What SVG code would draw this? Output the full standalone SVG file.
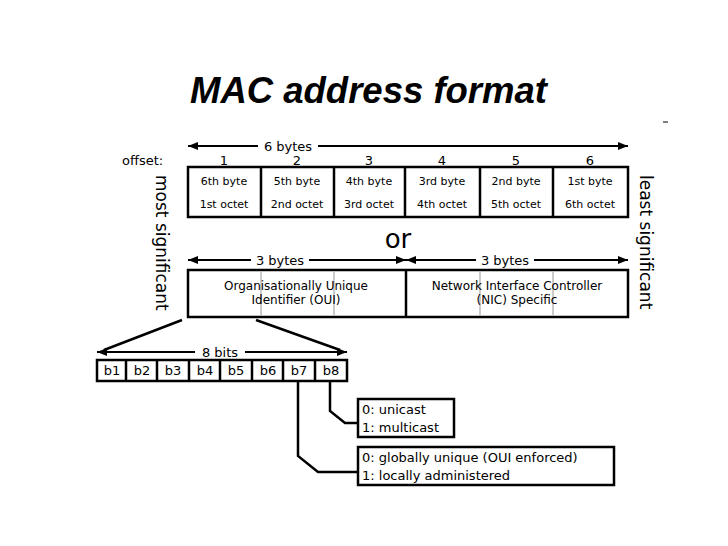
<svg xmlns="http://www.w3.org/2000/svg" width="728" height="546" viewBox="0 0 728 546">
<defs>
<marker id="ah" markerWidth="10" markerHeight="8" refX="10" refY="4" orient="auto-start-reverse" markerUnits="userSpaceOnUse"><path d="M0,0 L10,4 L0,8 z" fill="#000"/></marker>
<style>
text{font-family:"DejaVu Sans",sans-serif;fill:#000}
.s{font-size:11px}
.o{font-size:12px}
.m{font-size:13px}
.box{fill:#fff;stroke:#000;stroke-width:2.5}
.ln{fill:none;stroke:#000;stroke-width:2.5}
.ar{fill:none;stroke:#000;stroke-width:2;marker-start:url(#ah);marker-end:url(#ah)}
.g{stroke:#bbb;stroke-width:1.5}
</style>
</defs>
<rect width="728" height="546" fill="#fff"/>
<text x="190" y="103" style="font-family:'Liberation Sans',sans-serif;font-size:36.5px;font-weight:bold;font-style:italic">MAC address format</text>
<line x1="663" y1="122" x2="668" y2="122" stroke="#000"/>
<g id="connectors">
<line class="ar" x1="188" y1="146" x2="628" y2="146"/>
<line class="ar" x1="188" y1="260" x2="406" y2="260"/>
<line class="ar" x1="406" y1="260" x2="628" y2="260"/>
<line class="ar" x1="97" y1="352" x2="347" y2="352"/>
<path class="ln" d="M182,320 L104,350 M256,320 L340,350"/>
<path class="ln" d="M330,380 V411 L345,423 H358"/>
<path class="ln" d="M298,380 V456 L318,472 H358"/>
</g>
<g id="labels">
<rect x="258" y="139" width="60" height="14" fill="#fff"/>
<text class="m" x="288" y="151" text-anchor="middle">6 bytes</text>
<rect x="251" y="253" width="58" height="14" fill="#fff"/>
<text class="m" x="280" y="265" text-anchor="middle">3 bytes</text>
<rect x="476" y="253" width="58" height="14" fill="#fff"/>
<text class="m" x="505" y="265" text-anchor="middle">3 bytes</text>
<rect x="195" y="345" width="50" height="14" fill="#fff"/>
<text class="m" x="220" y="357" text-anchor="middle">8 bits</text>
<text class="m" x="122" y="165">offset:</text>
<text class="m" x="224" y="165" text-anchor="middle">1</text>
<text class="m" x="297" y="165" text-anchor="middle">2</text>
<text class="m" x="369" y="165" text-anchor="middle">3</text>
<text class="m" x="442" y="165" text-anchor="middle">4</text>
<text class="m" x="516" y="165" text-anchor="middle">5</text>
<text class="m" x="590" y="165" text-anchor="middle">6</text>
<text x="398" y="248" text-anchor="middle" style="font-size:26px">or</text>
<text x="0" y="0" transform="translate(156,175) rotate(90)" style="font-size:17px">most significant</text>
<text x="0" y="0" transform="translate(640,175) rotate(90)" style="font-size:17px">least significant</text>
</g>
<g id="bytes">
<rect class="box" x="188" y="167" width="440" height="50"/>
<path class="ln" d="M261,167V217M334,167V217M405,167V217M480,167V217M553,167V217"/>
<g class="s" text-anchor="middle">
<text x="224" y="185">6th byte</text><text x="224" y="208">1st octet</text>
<text x="297" y="185">5th byte</text><text x="297" y="208">2nd octet</text>
<text x="369" y="185">4th byte</text><text x="369" y="208">3rd octet</text>
<text x="442" y="185">3rd byte</text><text x="442" y="208">4th octet</text>
<text x="516" y="185">2nd byte</text><text x="516" y="208">5th octet</text>
<text x="590" y="185">1st byte</text><text x="590" y="208">6th octet</text>
</g>
</g>
<g id="oui-nic">
<rect class="box" x="188" y="270" width="440" height="47"/>
<path class="g" d="M261,271V316M334,271V316M480,271V316M553,271V316"/>
<line class="ln" x1="406" y1="270" x2="406" y2="317"/>
<text class="o" x="296" y="290" text-anchor="middle">Organisationally Unique</text>
<text class="o" x="296" y="304" text-anchor="middle">Identifier (OUI)</text>
<text class="o" x="517" y="290" text-anchor="middle">Network Interface Controller</text>
<text class="o" x="517" y="304" text-anchor="middle">(NIC) Specific</text>
</g>
<g id="bits">
<rect class="box" x="97" y="360" width="250" height="21"/>
<path class="ln" d="M126,360V381M157,360V381M189,360V381M220,360V381M252,360V381M283,360V381M315,360V381"/>
<g class="m" text-anchor="middle">
<text x="112" y="375">b1</text><text x="142" y="375">b2</text><text x="173" y="375">b3</text><text x="205" y="375">b4</text>
<text x="236" y="375">b5</text><text x="268" y="375">b6</text><text x="299" y="375">b7</text><text x="331" y="375">b8</text>
</g>
</g>
<g id="cast">
<rect class="box" x="358" y="399" width="96" height="38"/>
<text class="m" x="362" y="414">0: unicast</text>
<text class="m" x="362" y="432">1: multicast</text>
</g>
<g id="admin">
<rect class="box" x="358" y="447" width="256" height="38"/>
<text class="m" x="362" y="462">0: globally unique (OUI enforced)</text>
<text class="m" x="362" y="480">1: locally administered</text>
</g>
</svg>
